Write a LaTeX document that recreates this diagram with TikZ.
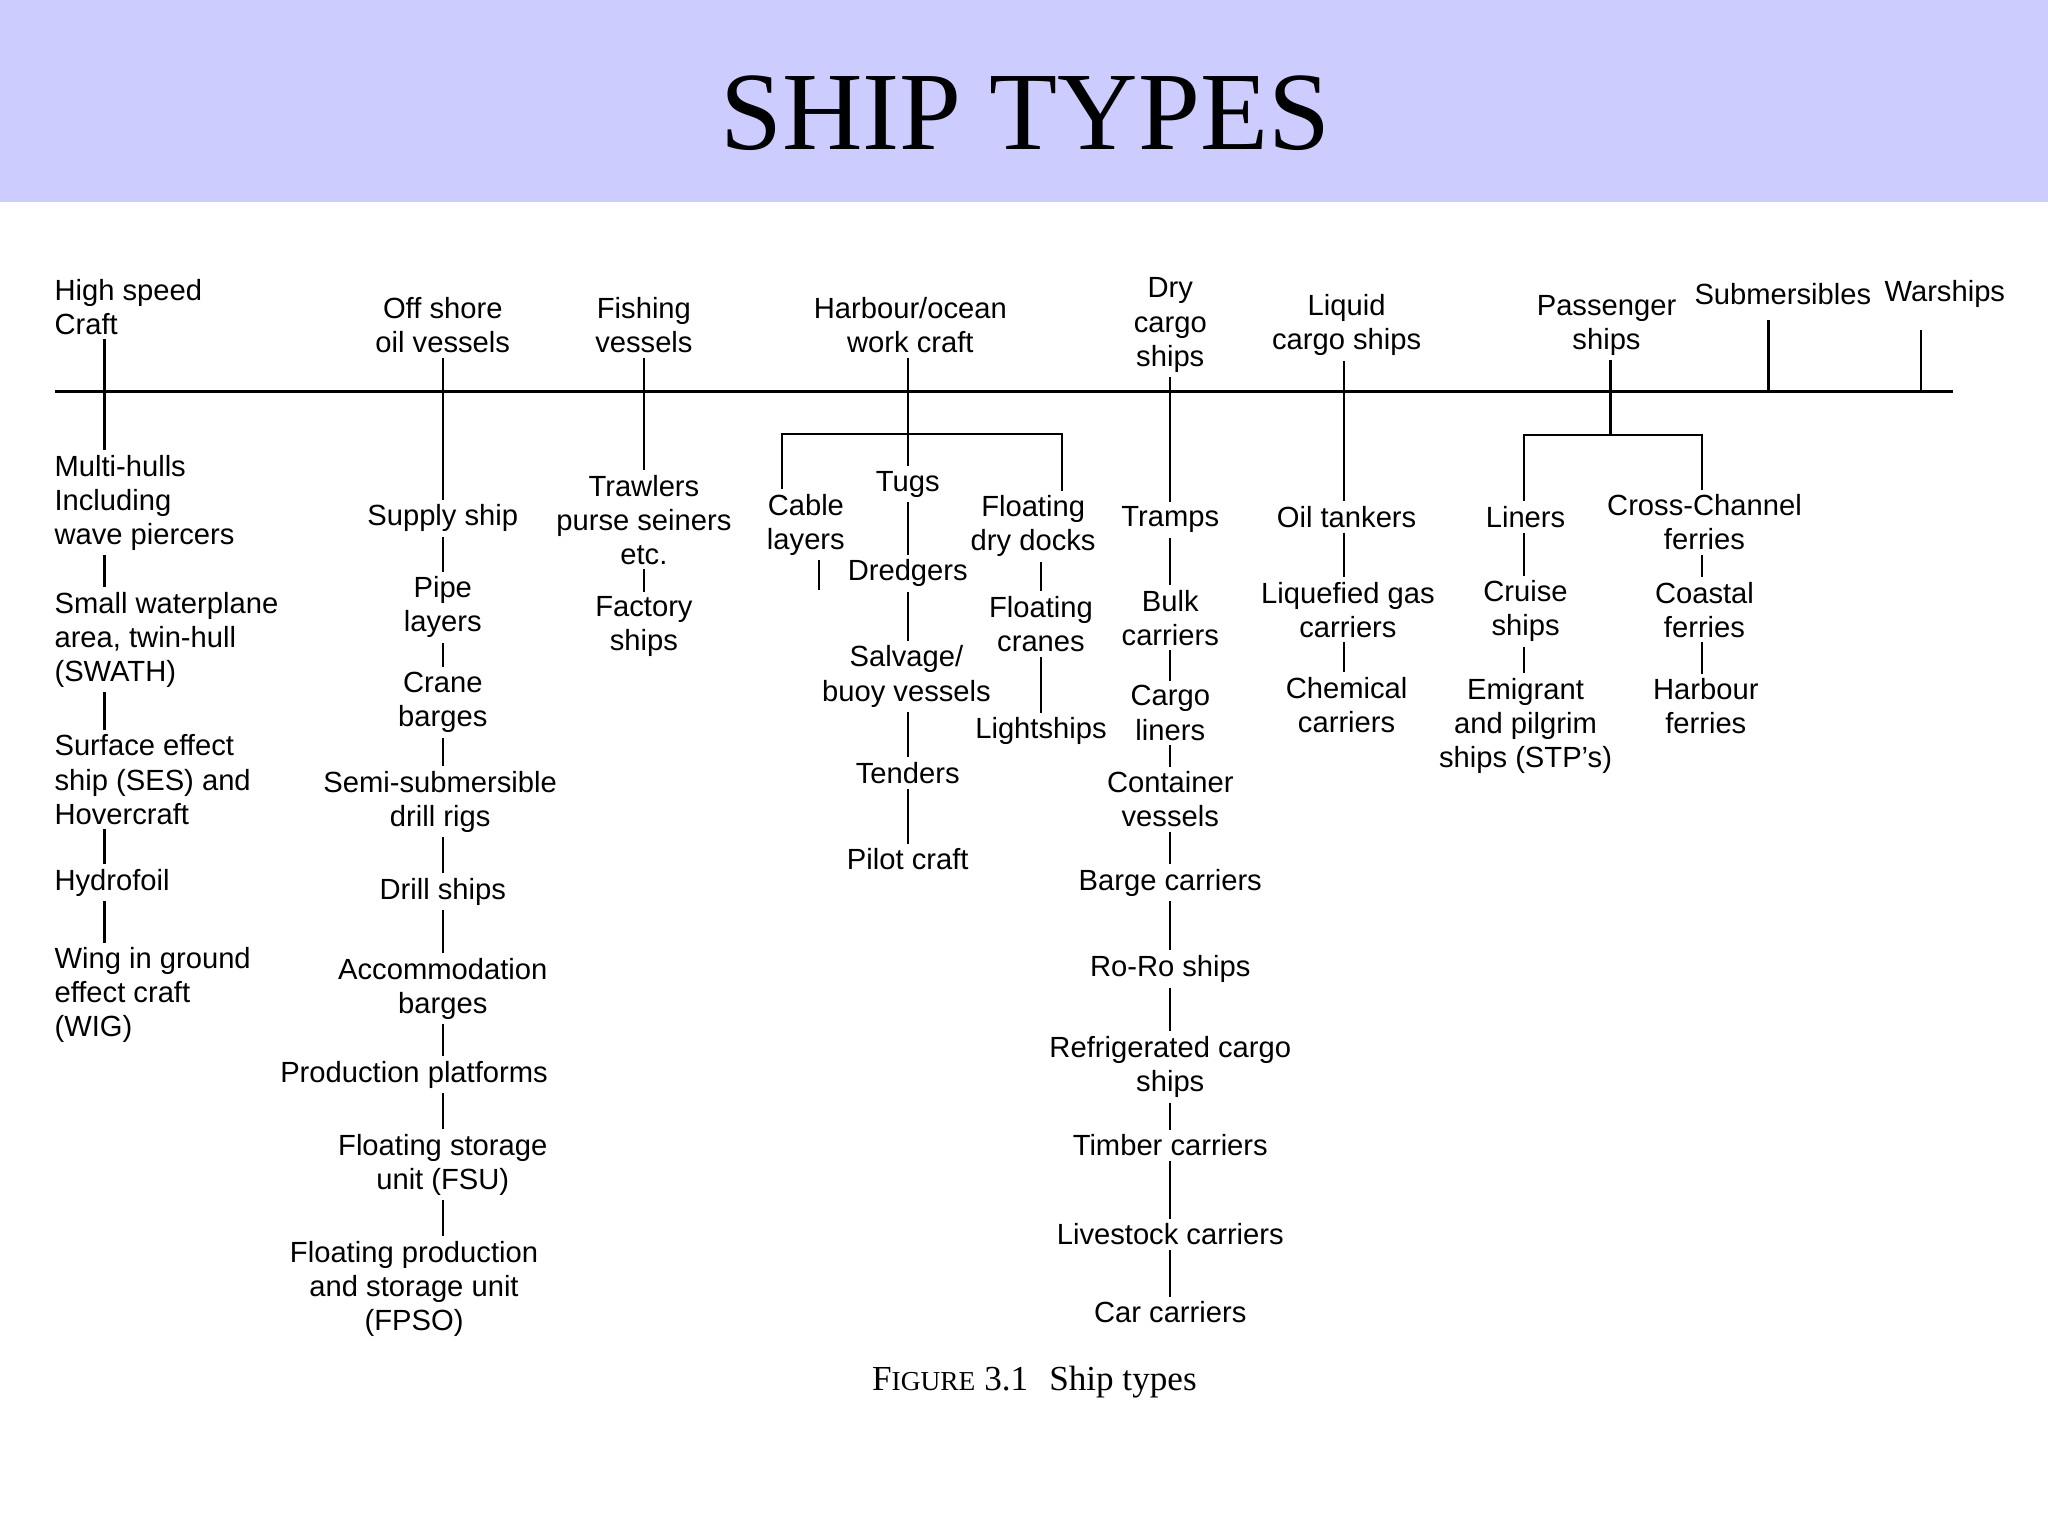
\documentclass[tikz,border=0pt]{standalone}
\usepackage{fontspec}
\setmainfont{Liberation Sans}
\newfontfamily\seriffont{Liberation Serif}
\usepackage{xcolor}
\usepackage{tikz}
\usetikzlibrary{positioning,calc}
\definecolor{bandblue}{RGB}{204,204,255}
\newcommand{\itemfont}{\fontsize{8.3}{9.7}\selectfont}
\tikzset{
    item/.style={font=\itemfont, align=center, inner sep=1.2pt, yshift=-0.7pt},
    lefty/.style={item, align=left, anchor=west},
    link/.style={line width=0.6pt},
    mainline/.style={line width=0.9pt}
}

\begin{document}
\begin{tikzpicture}[x=0.0130612cm, y=-0.0130612cm]
    \useasboundingbox (0,0) rectangle (1568,1176);
    % Title band
    \fill[bandblue] (0,0) rectangle (1568,155);
    \node (title) at (785,87) {\seriffont\fontsize{31.7}{36}\selectfont SHIP TYPES};

    % Main line
    \coordinate (ml0) at (42,300);
    \coordinate (ml1) at (1495,300);
    \draw[mainline] (ml0) -- (ml1);

    % High speed craft
    \coordinate (k1) at (80,300);
    \node[lefty] (hs) at (38,233) {High speed\\Craft};
    \node[lefty] (mh) at (38,383) {Multi-hulls\\Including\\wave piercers};
    \node[lefty] (sw) at (38,488) {Small waterplane\\area, twin-hull\\(SWATH)};
    \node[lefty] (se) at (38,595) {Surface effect\\ship (SES) and\\Hovercraft};
    \node[lefty] (hy) at (38,674) {Hydrofoil};
    \node[lefty] (wg) at (38,760) {Wing in ground\\effect craft\\(WIG)};
    \foreach \a/\b in {hs/mh, mh/sw, sw/se, se/hy, hy/wg}
        \draw[link] (k1 |- \a.south) -- (k1 |- \b.north);

    % Off shore oil vessels
    \coordinate (k2) at (339,300);
    \node[item] (os) at (339,247) {Off shore\\oil vessels};
    \node[item] (ss) at (339,395) {Supply ship};
    \node[item] (pl) at (339,463) {Pipe\\layers};
    \node[item] (cb) at (339,536) {Crane\\barges};
    \node[item] (sr) at (337,612) {Semi-submersible\\drill rigs};
    \node[item] (ds) at (339,681) {Drill ships};
    \node[item] (ab) at (339,755) {Accommodation\\barges};
    \node[item] (pp) at (317,821) {Production platforms};
    \node[item] (fs) at (339,890) {Floating storage\\unit (FSU)};
    \node[item] (fp) at (317,985) {Floating production\\and storage unit\\(FPSO)};
    \foreach \a/\b in {os/ss, ss/pl, pl/cb, cb/sr, sr/ds, ds/ab, ab/pp, pp/fs, fs/fp}
        \draw[link] (k2 |- \a.south) -- (k2 |- \b.north);

    % Fishing vessels
    \coordinate (k3) at (493,300);
    \node[item] (fv) at (493,247) {Fishing\\vessels};
    \node[item] (tw) at (493,396) {Trawlers\\purse seiners\\etc.};
    \node[item] (fy) at (493,478) {Factory\\ships};
    \foreach \a/\b in {fv/tw, tw/fy}
        \draw[link] (k3 |- \a.south) -- (k3 |- \b.north);

    % Harbour/ocean work craft
    \coordinate (k4) at (695,300);
    \coordinate (b4) at (695,332);
    \coordinate (k4l) at (599,300);
    \coordinate (k4r) at (813,300);
    \coordinate (k4c) at (797,300);
    \coordinate (cle) at (627,452);
    \node[item] (hw) at (697,247) {Harbour/ocean\\work craft};
    \node[item] (tg) at (695,369) {Tugs};
    \node[item] (dr) at (695,437) {Dredgers};
    \node[item] (sv) at (694,516) {Salvage/\\buoy vessels};
    \node[item] (td) at (695,590) {Tenders};
    \node[item] (pc) at (695,656) {Pilot craft};
    \node[item] (cl) at (617,400) {Cable\\layers};
    \node[item] (fd) at (791,401) {Floating\\dry docks};
    \node[item] (fc) at (797,476) {Floating\\cranes};
    \node[item] (ls) at (797,558) {Lightships};
    \foreach \a/\b in {hw/tg, tg/dr, dr/sv, sv/td, td/pc}
        \draw[link] (k4 |- \a.south) -- (k4 |- \b.north);
    \draw[link] (k4l |- cl.north) |- (b4) -| (k4r |- fd.north);
    \draw[link] (cle |- cl.south) -- (cle);
    \foreach \a/\b in {fd/fc, fc/ls}
        \draw[link] (k4c |- \a.south) -- (k4c |- \b.north);

    % Dry cargo ships
    \coordinate (k5) at (896,300);
    \node[item] (dc) at (896,247) {Dry\\cargo\\ships};
    \node[item] (tr) at (896,396) {Tramps};
    \node[item] (bc) at (896,471) {Bulk\\carriers};
    \node[item] (cg) at (896,544) {Cargo\\liners};
    \node[item] (cv) at (896,610) {Container\\vessels};
    \node[item] (bg) at (896,674) {Barge carriers};
    \node[item] (rr) at (896,740) {Ro-Ro ships};
    \node[item] (rc) at (896,815) {Refrigerated cargo\\ships};
    \node[item] (tc) at (896,875) {Timber carriers};
    \node[item] (lc) at (896,943) {Livestock carriers};
    \node[item] (cc) at (896,1003) {Car carriers};
    \foreach \a/\b in {dc/tr, tr/bc, bc/cg, cg/cv, cv/bg, bg/rr, rr/rc, rc/tc, tc/lc, lc/cc}
        \draw[link] (k5 |- \a.south) -- (k5 |- \b.north);

    % Liquid cargo ships
    \coordinate (k6) at (1029,300);
    \node[item] (lq) at (1031,247) {Liquid\\cargo ships};
    \node[item] (ot) at (1031,394) {Oil tankers};
    \node[item] (lg) at (1032,465) {Liquefied gas\\carriers};
    \node[item] (ch) at (1031,538) {Chemical\\carriers};
    \foreach \a/\b in {lq/ot, ot/lg, lg/ch}
        \draw[link] (k6 |- \a.south) -- (k6 |- \b.north);

    % Passenger ships
    \coordinate (k7) at (1233,300);
    \coordinate (b7) at (1233,333);
    \coordinate (k7l) at (1167,300);
    \coordinate (k7r) at (1303,300);
    \node[item] (ps) at (1230,247) {Passenger\\ships};
    \node[item] (ln) at (1168,394) {Liners};
    \node[item] (cr) at (1168,466) {Cruise\\ships};
    \node[item] (em) at (1168,554) {Emigrant\\and pilgrim\\ships (STP's)};
    \node[item] (cx) at (1305,398) {Cross-Channel\\ferries};
    \node[item] (cf) at (1305,465) {Coastal\\ferries};
    \node[item] (hf) at (1306,539) {Harbour\\ferries};
    \draw[link] (k7 |- ps.south) -- (b7);
    \draw[link] (k7l |- ln.north) |- (b7) -| (k7r |- cx.north);
    \foreach \a/\b in {ln/cr, cr/em}
        \draw[link] (k7l |- \a.south) -- (k7l |- \b.north);
    \foreach \a/\b in {cx/cf, cf/hf}
        \draw[link] (k7r |- \a.south) -- (k7r |- \b.north);

    % Submersibles and warships
    \coordinate (k8) at (1354,300);
    \coordinate (k9) at (1471,300);
    \node[item] (sb) at (1365,223) {Submersibles};
    \node[item] (wr) at (1489,223) {Warships};
    \draw[link, shorten <=3pt] (k8 |- sb.south) -- (k8);
    \draw[link, shorten <=5pt] (k9 |- wr.south) -- (k9);

    % Caption
    \node (cap) at (792,1058) {\seriffont\fontsize{10}{12}\selectfont F{\fontsize{7.8}{9}\selectfont IGURE} 3.1\hspace{0.6em}Ship types};
\end{tikzpicture}
\end{document}
